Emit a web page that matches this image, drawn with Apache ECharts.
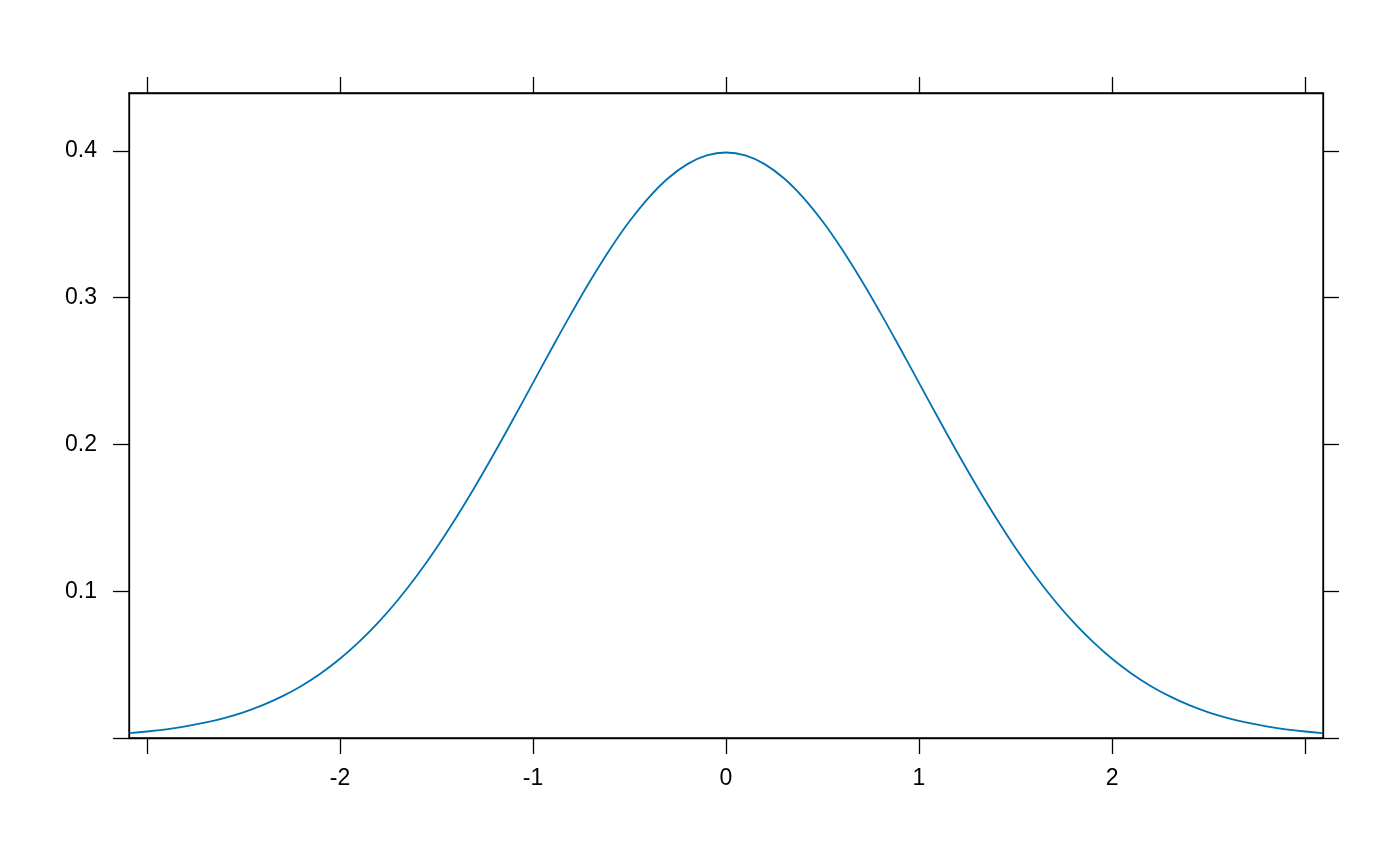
<!DOCTYPE html>
<html>
<head>
<meta charset="utf-8">
<script src="https://cdn.jsdelivr.net/npm/echarts@6/dist/echarts.min.js"></script>
<style>html,body{margin:0;padding:0;background:#fff;}#c{width:1400px;height:866px;}</style>
</head>
<body>
<div id="c"></div>
<script>
const xValues = [-3.09,-3.0,-2.9,-2.8,-2.7,-2.6,-2.5,-2.4,-2.3,-2.2,-2.1,-2.0,-1.9,-1.8,-1.7,-1.6,-1.5,-1.4,-1.3,-1.2,-1.1,-1.0,-0.9,-0.8,-0.7,-0.6,-0.5,-0.4,-0.3,-0.2,-0.1,0.0,0.1,0.2,0.3,0.4,0.5,0.6,0.7,0.8,0.9,1.0,1.1,1.2,1.3,1.4,1.5,1.6,1.7,1.8,1.9,2.0,2.1,2.2,2.3,2.4,2.5,2.6,2.7,2.8,2.9,3.0,3.09];
const densityValues = [0.00337,0.00443,0.00595,0.00792,0.01042,0.01358,0.01753,0.02239,0.02833,0.03547,0.04398,0.05399,0.06562,0.07895,0.09405,0.11092,0.12952,0.14973,0.17137,0.19419,0.21785,0.24197,0.26609,0.28969,0.31225,0.33322,0.35207,0.36827,0.38139,0.39104,0.39695,0.39894,0.39695,0.39104,0.38139,0.36827,0.35207,0.33322,0.31225,0.28969,0.26609,0.24197,0.21785,0.19419,0.17137,0.14973,0.12952,0.11092,0.09405,0.07895,0.06562,0.05399,0.04398,0.03547,0.02833,0.02239,0.01753,0.01358,0.01042,0.00792,0.00595,0.00443,0.00337];
const xTickValues = [-3,-2,-1,0,1,2,3];
const xLabelValues = [-2,-1,0,1,2];
const yTickValues = [0,0.1,0.2,0.3,0.4];
const yLabelValues = [0.1,0.2,0.3,0.4];

const seriesData = xValues.map((x, i) => [x, densityValues[i]]);
const font = 'Liberation Sans, Arial, Helvetica, sans-serif';
const lineStyle = {color: '#000', width: 1.3};

const chart = echarts.init(document.getElementById('c'), null, {renderer: 'canvas'});
chart.setOption({
  animation: false,
  backgroundColor: '#fff',
  grid: {left: 129, top: 93, width: 1194, height: 645, show: true, borderColor: '#000', borderWidth: 1.3},
  xAxis: [
    {type: 'value', position: 'bottom', min: -3.093, max: 3.093,
     axisLine: {show: true, onZero: false, lineStyle},
     axisTick: {show: true, length: 16, lineStyle, customValues: xTickValues},
     axisLabel: {show: true, margin: 29, fontSize: 23, color: '#000', fontFamily: font,
       customValues: xLabelValues, formatter: v => String(v)},
     splitLine: {show: false}},
    {type: 'value', position: 'top', min: -3.093, max: 3.093,
     axisLine: {show: true, onZero: false, lineStyle},
     axisTick: {show: true, length: 16, lineStyle, customValues: xTickValues},
     axisLabel: {show: false},
     splitLine: {show: false}}
  ],
  yAxis: [
    {type: 'value', position: 'left', min: 0, max: 0.4395,
     axisLine: {show: true, onZero: false, lineStyle},
     axisTick: {show: true, length: 16, lineStyle, customValues: yTickValues},
     axisLabel: {show: true, margin: 32, fontSize: 23, color: '#000', fontFamily: font,
       customValues: yLabelValues, formatter: v => v.toFixed(1)},
     splitLine: {show: false}},
    {type: 'value', position: 'right', min: 0, max: 0.4395,
     axisLine: {show: true, onZero: false, lineStyle},
     axisTick: {show: true, length: 16, lineStyle, customValues: yTickValues},
     axisLabel: {show: false},
     splitLine: {show: false}}
  ],
  series: [{
    type: 'line', xAxisIndex: 0, yAxisIndex: 0, data: seriesData,
    smooth: 0.4, showSymbol: false, symbol: 'none',
    lineStyle: {color: '#0072B2', width: 1.8}
  }]
});
</script>
</body>
</html>
